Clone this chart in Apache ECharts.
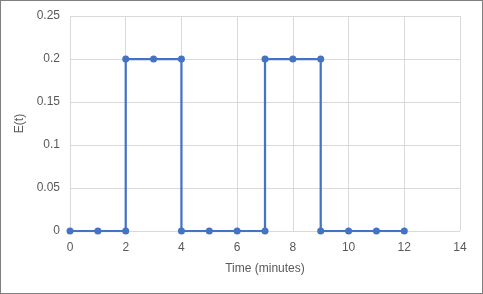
<!DOCTYPE html>
<html><head><meta charset="utf-8">
<script src="https://cdn.jsdelivr.net/npm/echarts@6/dist/echarts.min.js"></script>
<style>html,body{margin:0;padding:0;background:#fff}#c{width:483px;height:294px;box-sizing:border-box;border:1px solid #7f7f7f}</style>
</head><body><div id="c"></div>
<script>
const timeMin = [0, 1, 2, 2, 3, 4, 4, 5, 6, 7, 7, 8, 9, 9, 10, 11, 12];
const eValues = [0, 0, 0, 0.2, 0.2, 0.2, 0, 0, 0, 0, 0.2, 0.2, 0.2, 0, 0, 0, 0];
const xTitle = 'Time (minutes)';
const yTitle = 'E(t)';

const chart = echarts.init(document.getElementById('c'));
const font = 'Liberation Sans, Arial, sans-serif';
chart.setOption({
  animation: false,
  grid: {left: 69, right: 22, top: 15, bottom: 62},
  xAxis: {
    type: 'value', min: 0, max: 14, interval: 2,
    name: xTitle, nameLocation: 'middle', nameGap: 32,
    nameTextStyle: {color: '#595959', fontSize: 12, fontFamily: font},
    axisLine: {show: false}, axisTick: {show: false},
    axisLabel: {color: '#595959', fontSize: 12, fontFamily: font, margin: 11},
    splitLine: {show: true, lineStyle: {color: '#d9d9d9', width: 1}}
  },
  yAxis: {
    type: 'value', min: 0, max: 0.25, interval: 0.05,
    name: yTitle, nameLocation: 'middle', nameGap: 43, nameRotate: 90,
    nameTextStyle: {color: '#595959', fontSize: 12, fontFamily: font},
    axisLine: {show: false}, axisTick: {show: false},
    axisLabel: {color: '#595959', fontSize: 12, fontFamily: font, margin: 10},
    splitLine: {show: true, lineStyle: {color: '#d9d9d9', width: 1}}
  },
  series: [{
    type: 'line',
    data: timeMin.map((t, i) => [t, eValues[i]]),
    symbol: 'circle', symbolSize: 7, showSymbol: true,
    lineStyle: {color: '#4472C4', width: 2.25},
    itemStyle: {color: '#4472C4'}
  }]
});
</script></body></html>
